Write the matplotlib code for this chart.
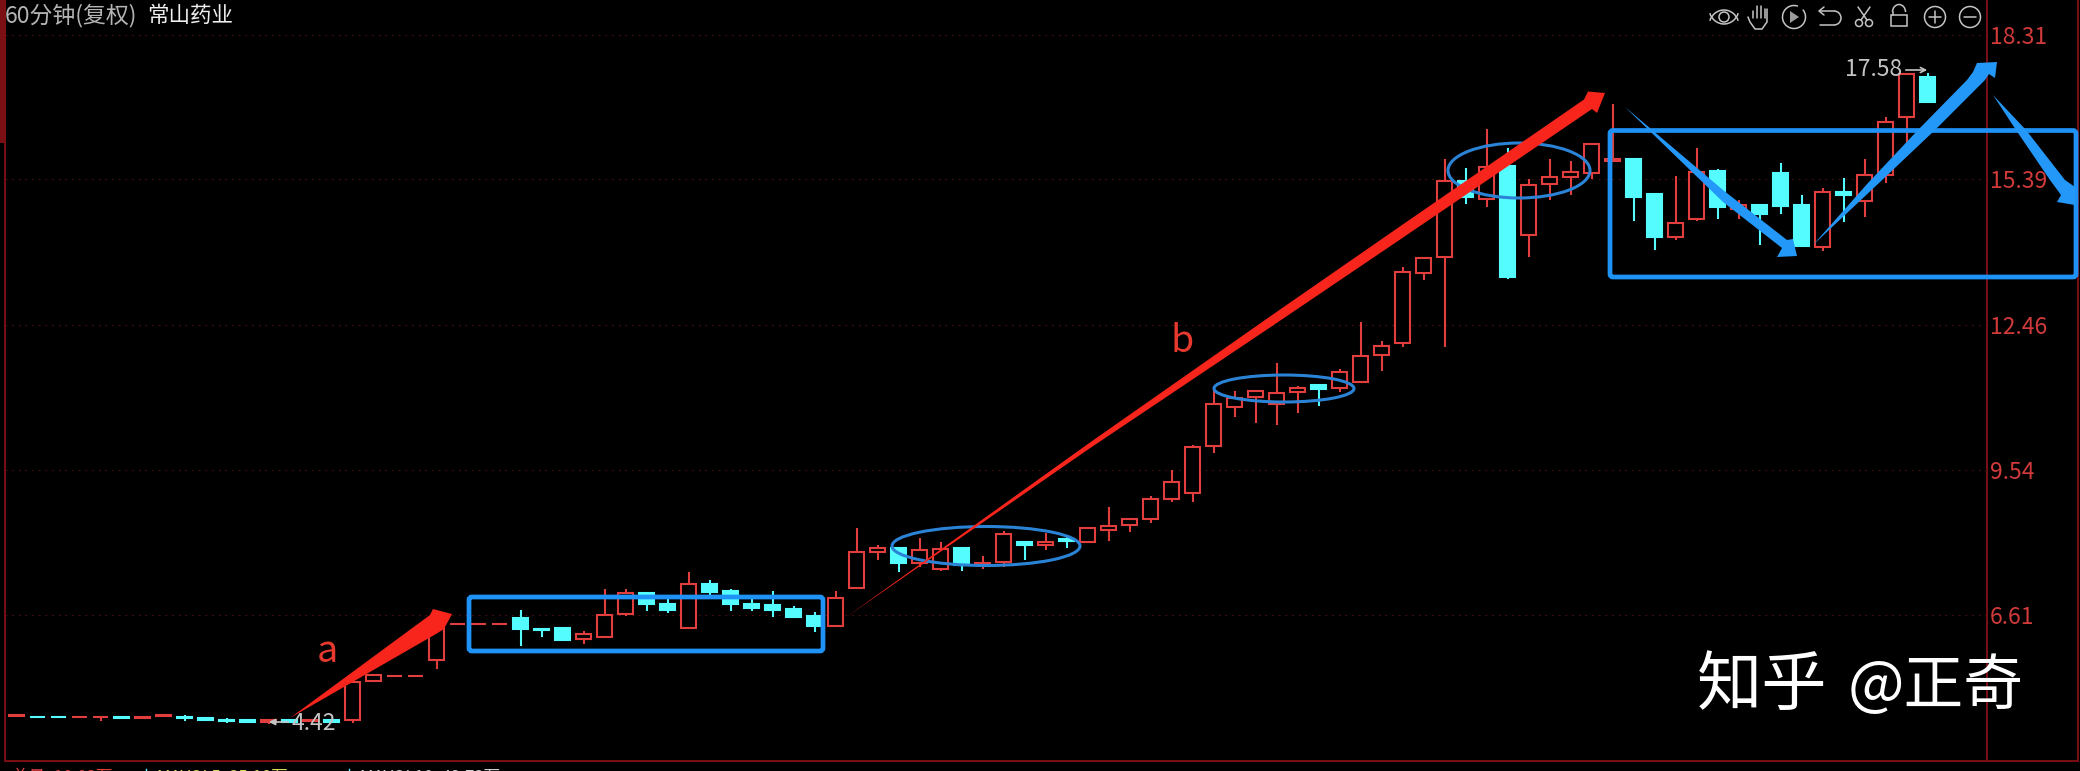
import matplotlib
matplotlib.use("Agg")
import matplotlib.pyplot as plt
from matplotlib.patches import Rectangle, Ellipse, Polygon, Circle, Arc, FancyBboxPatch

plt.rcParams["font.family"] = ["Noto Sans CJK SC", "DejaVu Sans"]

W, H = 2080, 771
RED = "#E23E3E"
CYAN = "#55FCFF"
AXIS = "#7A0F14"
GREY = "#C4C4C4"
BLUE = "#1E93F5"
ARROW_RED = "#F8251C"

# 60 minute candles
open_ = [4.58, 4.57, 4.57, 4.56, 4.56, 4.56, 4.55, 4.58, 4.57, 4.55, 4.50, 4.50, 4.46, 4.50, 4.48, 4.50,
         4.51, 5.29, 5.38, 5.38, 5.71, 6.43, 6.43, 6.43, 6.55, 6.34, 6.35, 6.13, 6.17, 6.63, 7.05, 6.83,
         6.35, 7.24, 7.09, 6.84, 6.82, 6.73, 6.59, 6.40, 7.15, 7.89, 7.96, 7.66, 7.54, 7.96, 7.64, 7.69,
         8.08, 8.03, 8.15, 8.09, 8.32, 8.42, 8.56, 8.95, 9.07, 10.03, 10.81, 11.00, 10.86, 11.10, 11.24, 11.18,
         11.31, 11.85, 12.09, 13.50, 13.83, 15.36, 14.99, 15.66, 14.28, 15.29, 15.43, 15.51, 15.76, 15.80,
         15.10, 14.24, 14.59, 15.56, 14.79, 14.87, 15.51, 14.88, 14.02, 15.14, 14.96, 15.47, 16.65, 17.45]
high = [4.61, 4.59, 4.57, 4.58, 4.59, 4.58, 4.57, 4.62, 4.60, 4.55, 4.54, 4.50, 4.51, 4.50, 4.50, 4.50,
        5.27, 5.41, 5.39, 5.39, 6.37, 6.44, 6.44, 6.44, 6.72, 6.35, 6.35, 6.29, 7.13, 7.13, 7.07, 6.93,
        7.49, 7.32, 7.13, 6.93, 7.09, 6.80, 6.68, 7.10, 8.36, 8.03, 7.96, 8.16, 8.08, 7.96, 7.80, 8.31,
        8.08, 8.26, 8.18, 8.37, 8.80, 8.58, 9.01, 9.54, 10.04, 11.14, 11.13, 11.13, 11.69, 11.23, 11.24, 11.57,
        12.52, 12.14, 13.63, 13.81, 15.81, 15.63, 16.40, 16.02, 15.40, 15.81, 15.77, 16.10, 16.91, 15.80,
        15.10, 15.46, 16.02, 15.60, 14.98, 14.87, 15.73, 15.08, 15.21, 15.41, 15.81, 16.65, 17.53, 17.53]
low = [4.57, 4.54, 4.56, 4.55, 4.49, 4.54, 4.53, 4.57, 4.49, 4.50, 4.44, 4.46, 4.42, 4.45, 4.47, 4.46,
       4.45, 5.26, 5.38, 5.38, 5.53, 6.43, 6.43, 6.43, 6.00, 6.18, 6.10, 6.04, 6.15, 6.60, 6.70, 6.66,
       6.33, 6.93, 6.70, 6.70, 6.57, 6.56, 6.28, 6.38, 7.13, 7.72, 7.49, 7.58, 7.51, 7.51, 7.54, 7.59,
       7.72, 7.93, 7.97, 8.09, 8.11, 8.29, 8.47, 8.90, 8.90, 9.88, 10.61, 10.48, 10.44, 10.69, 10.83, 11.11,
       11.29, 11.54, 12.02, 13.36, 12.02, 14.89, 14.83, 13.38, 13.83, 14.98, 15.07, 15.40, 15.76, 14.56,
       13.97, 14.17, 14.56, 14.59, 14.59, 14.07, 14.69, 14.03, 13.94, 14.54, 14.64, 15.31, 16.05, 16.93]
close = [4.60, 4.56, 4.56, 4.57, 4.57, 4.55, 4.56, 4.61, 4.55, 4.51, 4.48, 4.47, 4.51, 4.46, 4.50, 4.46,
         5.27, 5.41, 5.39, 5.39, 6.35, 6.44, 6.44, 6.44, 6.34, 6.32, 6.11, 6.23, 6.62, 7.05, 6.83, 6.72,
         7.25, 7.08, 6.83, 6.76, 6.72, 6.58, 6.40, 6.96, 7.89, 7.96, 7.66, 7.93, 7.95, 7.62, 7.67, 8.24,
         8.02, 8.09, 8.11, 8.37, 8.41, 8.55, 8.95, 9.30, 10.00, 10.86, 10.98, 11.13, 11.09, 11.19, 11.17, 11.52,
         11.84, 12.04, 13.53, 13.81, 15.36, 15.04, 15.65, 13.43, 15.28, 15.43, 15.55, 16.10, 15.80, 15.04,
         14.24, 14.52, 15.55, 14.84, 14.88, 14.69, 14.85, 14.05, 15.14, 15.08, 15.47, 16.55, 17.51, 16.96]

y_ticks = [18.31, 15.39, 12.46, 9.54, 6.61]
y_labels = ["18.31", "15.39", "12.46", "9.54", "6.61"]
low_mark = 4.42
high_mark = 17.58

fig = plt.figure(figsize=(W / 100, H / 100), dpi=100, facecolor="black")

# price panel, from the left rule to the right rule
ax = fig.add_axes([5 / W, 1 - 760.7 / H, (1987 - 5) / W, 760.7 / H], facecolor="black")
ax.set_xlim(-0.548, 93.83)
ax.set_ylim(3.681, 19.005)
ax.set_xticks([])
ax.yaxis.tick_right()
ax.set_yticks(y_ticks)
ax.set_yticklabels(y_labels, color="#D03A3A", fontsize=16.5)
ax.tick_params(axis="y", length=0, pad=2)
ax.grid(axis="y", color="#4A1012", linewidth=0.8, linestyle=(0, (1.5, 4.5)))
ax.set_axisbelow(True)
ax.spines["top"].set_visible(False)
for side in ["left", "right", "bottom"]:
    ax.spines[side].set_color(AXIS)
    ax.spines[side].set_linewidth(1.4)

body_w = 0.74
for i in range(len(open_)):
    up = close[i] >= open_[i]
    lo, hi = min(open_[i], close[i]), max(open_[i], close[i])
    color = RED if up else CYAN
    ax.vlines(i, hi, high[i], color=color, linewidth=1.5, zorder=2)
    ax.vlines(i, low[i], lo, color=color, linewidth=1.5, zorder=2)
    # very short bodies are only a filled dash
    filled = (not up) or (hi - lo) < 0.06
    ax.add_patch(Rectangle((i - body_w / 2, lo), body_w, hi - lo, facecolor=color if filled else "black",
                           edgecolor=color, linewidth=1.5, zorder=3))

# hand drawn marks and screen furniture, in screen pixels
ov = fig.add_axes([0, 0, 1, 1], facecolor="none")
ov.set_xlim(0, W)
ov.set_ylim(H, 0)
ov.axis("off")

ov.plot([1987, 2078], [760.7, 760.7], color=AXIS, linewidth=1.4)
ov.plot([2078, 2078], [0, 760.7], color=AXIS, linewidth=1.4)
ov.add_patch(Rectangle((0, 0), 5.5, 143, facecolor=AXIS, edgecolor="none"))

for x0, x1, y0, y1 in [(469, 823, 597, 651), (1610, 2076, 130.5, 277)]:
    ov.add_patch(FancyBboxPatch((x0, y0), x1 - x0, y1 - y0, boxstyle="round,pad=0,rounding_size=3",
                                facecolor="none", edgecolor=BLUE, linewidth=3.4, zorder=5))

for cx, cy, ew, eh in [(986, 546, 188, 39), (1284, 388.5, 140, 27), (1519, 170.5, 142, 55)]:
    ov.add_patch(Ellipse((cx, cy), ew, eh, facecolor="none", edgecolor="#2B83D6", linewidth=2.2, zorder=5))

red_arrows = [
    [(290, 718), (430, 615), (433, 609), (452, 614), (444, 629), (436, 634)],
    [(845, 618), (1087, 444.6), (1270, 316.5), (1400, 226.4), (1584, 99.5), (1588, 91.5), (1605, 93), (1597, 113),
     (1592, 109), (1400, 239.6), (1270, 327.5), (1087, 450.2)],
]
blue_arrows = [
    [(1625, 107), (1723, 190), (1787, 240), (1793, 239), (1797, 256), (1777, 257), (1782, 248), (1723, 202)],
    [(1813, 245), (1868, 183), (1918, 130), (1967, 80), (1973, 72), (1977, 63), (1997, 62), (1995, 78), (1989, 74),
     (1985, 80), (1935, 130), (1879, 183)],
    [(1993, 95), (2026, 130), (2065, 180), (2075, 187), (2075, 205), (2057, 202), (2061, 195), (2050, 180), (2016, 130)],
]
for pts in red_arrows:
    ov.add_patch(Polygon(pts, closed=True, facecolor=ARROW_RED, edgecolor="none", zorder=6))
for pts in blue_arrows:
    ov.add_patch(Polygon(pts, closed=True, facecolor="#2498F8", edgecolor="none", zorder=6))

ov.text(327, 652, "a", color="#E8392F", fontsize=27, ha="center", va="center", zorder=7)
ov.text(1182, 341, "b", color="#E8392F", fontsize=27, ha="center", va="center", zorder=7)

# low and high price notes
ov.text(292, 723, f"{low_mark:.2f}", color=GREY, fontsize=16.5, ha="left", va="center", zorder=7)
ov.annotate("", xy=(266, 722), xytext=(291, 722), zorder=7,
            arrowprops=dict(arrowstyle="-|>", color=GREY, linewidth=1.2, mutation_scale=9))
ov.text(1845, 70, f"{high_mark:.2f}", color=GREY, fontsize=16.5, ha="left", va="center", zorder=7)
ov.annotate("", xy=(1930, 70), xytext=(1903, 70), zorder=7,
            arrowprops=dict(arrowstyle="->", color=GREY, linewidth=1.2, mutation_scale=9))

ov.text(5, 16, "60分钟(复权)", color="#B4B4B4", fontsize=16.5, ha="left", va="center")
ov.text(147, 16, "常山药业", color="#F0F0F0", fontsize=15.5, ha="left", va="center")

ov.text(1697, 687, "知乎", color="white", fontsize=47, fontweight="medium", ha="left", va="center", zorder=7)
ov.text(1848, 687, "@正奇", color="white", fontsize=43, ha="left", va="center", zorder=7)

# toolbar icons
ic = dict(color=GREY, linewidth=1.1, solid_capstyle="round")
pc = dict(facecolor="none", edgecolor=GREY, linewidth=1.1)
# eye
ov.add_patch(Arc((1724, 26), 30, 32, theta1=200, theta2=340, **pc))
ov.add_patch(Arc((1724, 8), 30, 32, theta1=20, theta2=160, **pc))
ov.add_patch(Circle((1724, 17), 5, **pc))
# hand
for fx, top in [(1753, 11), (1757, 6), (1761, 6), (1765, 9)]:
    ov.plot([fx, fx], [top, 18], **ic)
ov.plot([1767, 1767, 1762, 1755, 1750, 1748], [9, 22, 29, 29, 22, 17], **ic)
# play
ov.add_patch(Arc((1794, 17), 23, 23, theta1=-40, theta2=290, **pc))
ov.add_patch(Polygon([(1790, 11), (1790, 23), (1799, 17)], closed=True, facecolor=GREY, edgecolor="none", alpha=0.8))
# undo
ov.plot([1820, 1834], [11, 11], **ic)
ov.add_patch(Arc((1834, 18), 14, 14, theta1=-90, theta2=90, **pc))
ov.plot([1834, 1820], [25, 25], **ic)
ov.plot([1824, 1819, 1824], [7, 11, 15], **ic)
# scissors
ov.add_patch(Circle((1859, 23), 3.5, **pc))
ov.add_patch(Circle((1869, 23), 3.5, **pc))
ov.plot([1861, 1870], [20, 7], **ic)
ov.plot([1867, 1858], [20, 7], **ic)
# lock
ov.add_patch(Rectangle((1891, 15), 16, 11, **pc))
ov.add_patch(Arc((1899, 12), 13, 15, theta1=180, theta2=360, **pc))
ov.plot([1892.5, 1892.5], [12, 15], **ic)
# plus, minus
ov.add_patch(Circle((1935, 17), 10.5, **pc))
ov.plot([1929, 1941], [17, 17], **ic)
ov.plot([1935, 1935], [11, 23], **ic)
ov.add_patch(Circle((1970, 17), 10.5, **pc))
ov.plot([1964, 1976], [17, 17], **ic)

# indicator line is cut off by the bottom edge of the screenshot
ov.text(12, 768.5, "总量: 10.03万", color=RED, fontsize=12, ha="left", va="top", clip_on=True)
ov.plot([146, 146], [769, 771], color=CYAN, linewidth=1)
ov.text(157, 768.5, "MAVOL5: 35.18万", color="#D8D850", fontsize=12, ha="left", va="top", clip_on=True)
ov.plot([349, 349], [769, 771], color=CYAN, linewidth=1)
ov.text(360, 768.5, "MAVOL10: 42.73万", color="#D0D0D0", fontsize=12, ha="left", va="top", clip_on=True)

fig.savefig("out.png", dpi=100, facecolor="black")
